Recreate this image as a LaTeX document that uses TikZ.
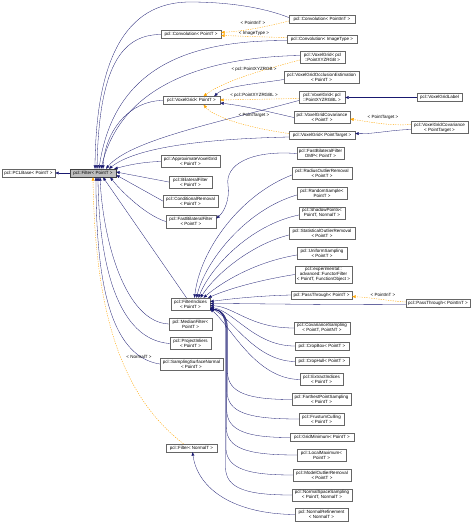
\documentclass[tikz,border=0pt]{standalone}
\usepackage{fontspec}
\setmainfont{Liberation Sans}
\usetikzlibrary{arrows.meta}
\definecolor{edgeblue}{HTML}{191970}
\definecolor{tmplorange}{HTML}{FFA500}
\definecolor{boxgray}{HTML}{BFBFBF}
\newcommand\dxf{\fontsize{4.5}{5.2}\selectfont}
\begin{document}
\begin{tikzpicture}[x=1pt,y=-1pt,
  cls/.style={draw=black!60, line width=0.4pt, fill=white, font=\dxf, align=center, inner sep=0pt, minimum height=8pt},
  clsmain/.style={cls, fill=boxgray, draw=black!75},
  inh/.style={draw=edgeblue, line width=0.3pt, -{Triangle[length=3.5pt,width=2.8pt]}},
  tmpl/.style={draw=tmplorange, line width=0.4pt, dash pattern=on 1.2pt off 1.2pt, -{Triangle[length=3.5pt,width=2.8pt]}},
  lbl/.style={font=\dxf, inner sep=0pt}]
\useasboundingbox (0,0) rectangle (474,523);

% ---- nodes ----
\node[cls, minimum width=53pt] (pclbase) at (28.5,173) {pcl::PCLBase< PointT >};
\node[clsmain, minimum width=46pt] (filter) at (93,173) {pcl::Filter< PointT >};

\node[cls, minimum width=60pt] (convT) at (191,34.5) {pcl::Convolution< PointT >};
\node[cls, minimum width=66pt] (convIn) at (322,19.5) {pcl::Convolution< PointInT >};
\node[cls, minimum width=70pt] (convImg) at (322,39) {pcl::Convolution< ImageType >};
\node[cls, minimum width=45pt, minimum height=12pt] (vgRGB) at (322.5,57.5) {pcl::VoxelGrid< pcl\\::PointXYZRGB >};
\node[cls, minimum width=75pt, minimum height=12pt] (vgOcc) at (321.5,77.5) {pcl::VoxelGridOcclusionEstimation\\< PointT >};
\node[cls, minimum width=57pt] (vgT) at (191.5,100.5) {pcl::VoxelGrid< PointT >};
\node[cls, minimum width=46pt, minimum height=12pt] (vgRGBL) at (322,97.5) {pcl::VoxelGrid< pcl\\::PointXYZRGBL >};
\node[cls, minimum width=45pt] (vgLabel) at (439.5,97.5) {pcl::VoxelGridLabel};
\node[cls, minimum width=56pt, minimum height=12pt] (vgCovT) at (322,117.5) {pcl::VoxelGridCovariance\\< PointT >};
\node[cls, minimum width=57pt, minimum height=12pt] (vgCovTgt) at (439.5,127.5) {pcl::VoxelGridCovariance\\< PointTarget >};
\node[cls, minimum width=66pt] (vgTgt) at (322,135.5) {pcl::VoxelGrid< PointTarget >};

\node[cls, minimum width=47pt, minimum height=12pt] (fbfOMP) at (320.5,153.5) {pcl::FastBilateralFilter\\OMP< PointT >};
\node[cls, minimum width=60pt, minimum height=12pt] (radius) at (322,173) {pcl::RadiusOutlierRemoval\\< PointT >};
\node[cls, minimum width=50pt, minimum height=12pt] (random) at (322,193) {pcl::RandomSample<\\PointT >};
\node[cls, minimum width=46pt, minimum height=12pt] (shadow) at (322,213) {pcl::ShadowPoints<\\PointT, NormalT >};
\node[cls, minimum width=66pt, minimum height=12pt] (stat) at (322,233) {pcl::StatisticalOutlierRemoval\\< PointT >};
\node[cls, minimum width=50pt, minimum height=12pt] (uniform) at (322,253) {pcl::UniformSampling\\< PointT >};
\node[cls, minimum width=57pt, minimum height=17pt] (functor) at (323.5,274.5) {pcl::experimental::\\advanced::FunctorFilter\\< PointT, FunctionObject >};
\node[cls, minimum width=61pt] (passT) at (321.5,295) {pcl::PassThrough< PointT >};
\node[cls, minimum width=64pt] (passIn) at (438,303.5) {pcl::PassThrough< PointInT >};
\node[cls, minimum width=56pt, minimum height=12pt] (covS) at (322,328) {pcl::CovarianceSampling\\< PointT, PointNT >};
\node[cls, minimum width=54pt] (cropBox) at (322,346) {pcl::CropBox< PointT >};
\node[cls, minimum width=54pt] (cropHull) at (322,361.5) {pcl::CropHull< PointT >};
\node[cls, minimum width=43pt, minimum height=12pt] (extract) at (321.5,379.5) {pcl::ExtractIndices\\< PointT >};
\node[cls, minimum width=59pt, minimum height=12pt] (farthest) at (321.5,399.5) {pcl::FarthestPointSampling\\< PointT >};
\node[cls, minimum width=45pt, minimum height=12pt] (frustum) at (321.5,419) {pcl::FrustumCulling\\< PointT >};
\node[cls, minimum width=64pt] (gridMin) at (322,437.5) {pcl::GridMinimum< PointT >};
\node[cls, minimum width=49pt, minimum height=12pt] (localMax) at (321.5,455) {pcl::LocalMaximum<\\PointT >};
\node[cls, minimum width=58pt, minimum height=12pt] (modelOut) at (322,475) {pcl::ModelOutlierRemoval\\< PointT >};
\node[cls, minimum width=60pt, minimum height=12pt] (normSpace) at (322,495) {pcl::NormalSpaceSampling\\< PointT, NormalT >};
\node[cls, minimum width=53pt, minimum height=13pt] (normRef) at (321.5,514.5) {pcl::NormalRefinement\\< NormalT >};

\node[cls, minimum width=59pt, minimum height=12pt] (approx) at (190.5,161.5) {pcl::ApproximateVoxelGrid\\< PointT >};
\node[cls, minimum width=43pt, minimum height=12pt] (bilat) at (190.5,182) {pcl::BilateralFilter\\< PointT >};
\node[cls, minimum width=55pt, minimum height=12pt] (cond) at (190.5,201) {pcl::ConditionalRemoval\\< PointT >};
\node[cls, minimum width=50pt, minimum height=13pt] (fbf) at (191,221.5) {pcl::FastBilateralFilter\\< PointT >};
\node[cls, minimum width=39pt, minimum height=12pt] (findices) at (190.5,304) {pcl::FilterIndices\\< PointT >};
\node[cls, minimum width=43pt, minimum height=12pt] (median) at (190.5,324) {pcl::MedianFilter<\\PointT >};
\node[cls, minimum width=41pt, minimum height=12pt] (project) at (190.5,343.5) {pcl::ProjectInliers\\< PointT >};
\node[cls, minimum width=63pt, minimum height=12pt] (sampling) at (191.5,364) {pcl::SamplingSurfaceNormal\\< PointT >};
\node[cls, minimum width=51pt] (filterN) at (191.5,448) {pcl::Filter< NormalT >};

% ---- inheritance edges ----
\draw[inh] (filter.west) -- (pclbase.east);

\draw[inh] ([yshift=2pt]convIn.west) .. controls (265,8) and (230,2) .. (190,2) .. controls (125,2) and (96,60) .. ([xshift=2pt]filter.north);
\draw[inh] (convT.west) .. controls (120,34.5) and (99,70) .. ([xshift=4pt]filter.north);
\draw[inh] ([yshift=-1.5pt]convImg.west) .. controls (200,40.5) and (115,60) .. ([xshift=6pt]filter.north);
\draw[inh] ([yshift=2pt]vgRGB.west) .. controls (215,57) and (122,80) .. ([xshift=8pt]filter.north);
\draw[inh] (vgT.west) .. controls (130,100.5) and (105,130) .. ([xshift=10pt]filter.north);
\draw[inh] ([yshift=-3pt]vgRGBL.west) .. controls (220,122) and (130,140) .. ([xshift=13pt]filter.north);
\draw[inh] ([yshift=-1.5pt]vgTgt.west) .. controls (200,139) and (135,148) .. ([xshift=16pt]filter.north);
\draw[inh] (approx.west) .. controls (140,162) and (125,166) .. ([xshift=-2pt]filter.north east);
\draw[inh] (bilat.west) -- ([yshift=1pt]filter.east);
\draw[inh] (cond.west) -- ([yshift=-2pt]filter.east);
\draw[inh] (fbf.west) .. controls (145,215) and (120,190) .. ([xshift=-6pt]filter.south east);
\draw[inh] ([xshift=-4pt]findices.north) -- ([xshift=10pt]filter.south);
\draw[inh] (median.west) .. controls (125,322) and (103,240) .. ([xshift=7pt]filter.south);
\draw[inh] (project.west) .. controls (118,340) and (99,265) .. ([xshift=5pt]filter.south);
\draw[inh] (sampling.west) .. controls (108,356) and (96,275) .. ([xshift=3pt]filter.south);

\draw[inh] ([yshift=-2pt]vgOcc.west) .. controls (255,84) and (225,86) .. ([xshift=-6pt]vgT.north east);
\draw[inh] (vgCovT.west) .. controls (270,112) and (245,106) .. ([yshift=-2.5pt]vgT.east);
\draw[inh] (vgLabel.west) -- (vgRGBL.east);
\draw[inh] ([yshift=-2pt]vgCovTgt.west) .. controls (390,130) and (375,134) .. ([yshift=2pt]vgTgt.east);

\draw[inh] (fbfOMP.west) .. controls (250,150) and (225,165) .. (228,185) .. controls (230,200) and (224,212) .. ([yshift=3pt]fbf.east);

\draw[inh] ([yshift=-2pt]radius.west) .. controls (240,195) and (200,250) .. ([xshift=4pt]findices.north);
\draw[inh] ([yshift=-2pt]random.west) .. controls (245,210) and (205,262) .. ([xshift=6pt]findices.north);
\draw[inh] ([yshift=-2pt]shadow.west) .. controls (250,225) and (210,268) .. ([xshift=8pt]findices.north);
\draw[inh] ([yshift=-2pt]stat.west) .. controls (250,245) and (215,275) .. ([xshift=10pt]findices.north);
\draw[inh] ([yshift=-2pt]uniform.west) .. controls (255,262) and (222,282) .. ([xshift=13pt]findices.north);
\draw[inh] (functor.west) .. controls (265,279) and (230,288) .. ([xshift=-2pt]findices.north east);
\draw[inh] (passT.west) .. controls (255,296) and (230,299) .. ([yshift=2.5pt]findices.east);
\draw[inh] ([yshift=-1pt]passIn.west) .. controls (330,305) and (250,303.5) .. ([yshift=0.5pt]findices.east);
\draw[inh] (covS.west) .. controls (250,328) and (235,307) .. ([yshift=-1.5pt]findices.east);
\draw[inh] (cropBox.west) .. controls (255,346) and (235,312) .. ([yshift=-3pt]findices.east);
\draw[inh] (cropHull.west) .. controls (255,361) and (232,318) .. ([yshift=-4pt]findices.east);
\draw[inh] (extract.west) .. controls (255,379) and (230,325) .. ([yshift=-5pt]findices.east);
\foreach \n/\Y/\xv in {farthest/399.5/227.5, frustum/419/227.1, gridMin/437.5/226.7, localMax/455/226.3, modelOut/475/225.9, normSpace/495/225.5}{
  \draw[inh] (\n.west) .. controls (\xv+22,\Y) and (\xv,\Y-6) .. (\xv,\Y-28) -- (\xv,328) .. controls (\xv,316) and (\xv-6,309.5) .. ([yshift=-5pt]findices.east);
}
\draw[inh] (normRef.west) .. controls (235,514) and (198,490) .. ([xshift=1pt]filterN.south);

% ---- template instance edges ----
\draw[tmpl] ([yshift=-1.5pt]convIn.west) .. controls (265,27) and (245,31) .. ([yshift=2pt]convT.east);
\node[lbl] (lPointInT) at (253,22.5) {< PointInT >};
\draw[tmpl] ([yshift=1.5pt]convImg.west) .. controls (260,37) and (240,36) .. ([yshift=-1pt]convT.east);
\node[lbl] (lImageType) at (254,33) {< ImageType >};

\draw[tmpl] ([yshift=-2.5pt]vgRGB.west) .. controls (270,68) and (225,80) .. ([xshift=12pt]vgT.north);
\node[lbl] (lRGB) at (254,69.5) {< pcl::PointXYZRGB >};
\draw[tmpl] ([yshift=-1pt]vgRGBL.west) -- ([yshift=0.5pt]vgT.east);
\node[lbl] (lRGBL) at (254,95.5) {< pcl::PointXYZRGBL >};
\draw[tmpl] ([yshift=2pt]vgTgt.west) .. controls (250,128) and (215,118) .. ([xshift=12pt]vgT.south);
\node[lbl] (lTgt) at (254,115.5) {< PointTarget >};

\draw[tmpl] ([yshift=3pt]vgCovTgt.west) .. controls (390,126) and (370,122) .. ([yshift=-1.5pt]vgCovT.east);
\node[lbl] (lCovTgt) at (383,117) {< PointTarget >};

\draw[tmpl] ([yshift=1.5pt]passIn.west) .. controls (390,301) and (370,297.5) .. ([yshift=-1.5pt]passT.east);
\node[lbl] (lPassIn) at (383,295) {< PointInT >};

\draw[tmpl] ([xshift=-8pt]filterN.north) .. controls (120,395) and (95,310) .. (filter.south);
\node[lbl] (lNormalT) at (139,357) {< NormalT >};
\end{tikzpicture}
\end{document}
